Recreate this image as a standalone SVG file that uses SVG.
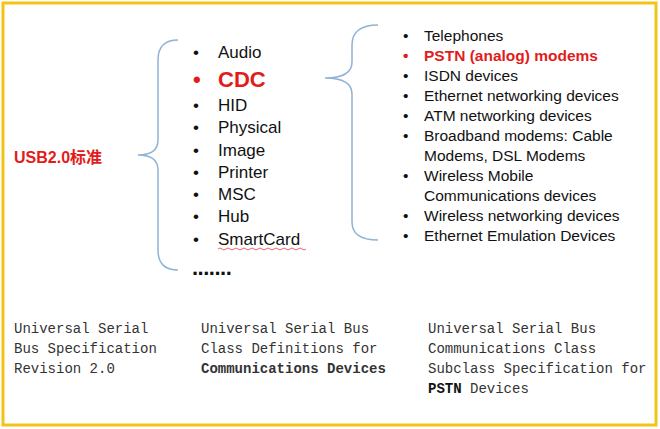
<svg xmlns="http://www.w3.org/2000/svg" width="660" height="429" viewBox="0 0 660 429">
<style>
.s{font-family:"Liberation Sans",Arial,sans-serif;font-size:17px;fill:#111}
.r{font-family:"Liberation Sans",Arial,sans-serif;font-size:15.5px;fill:#111}
.m{font-family:"Liberation Mono","Courier New",monospace;font-size:14px;fill:#333}
.red{fill:#e21c1c;font-weight:bold}
.big{font-size:22px}
.br{fill:none;stroke:#8fb3d6;stroke-width:1.5}
</style>
<rect x="3" y="3" width="653" height="422" fill="#fff" stroke="#f0c419" stroke-width="3"/>
<g id="usb"><text x="14" y="163" font-family="'Liberation Sans','Noto Sans CJK SC',sans-serif" font-size="16" font-weight="bold" fill="#e21c1c">USB2.0标准</text></g>
<g id="connectors">
<path class="br" d="M178,40 Q158,40 158,60 L158,140 Q158,155 138,155 Q158,155 158,170 L158,250 Q158,270 178,270"/>
<path class="br" d="M378,25 Q352,25 352,45 L352,62 Q352,78 325,78 Q352,78 352,94 L352,222 Q352,240 378,240"/>
</g>
<g id="classes">
<text class="s" x="193" y="58">•</text><text class="s" x="218" y="58">Audio</text>
<text class="s red big" x="193" y="87">•</text><text class="s red big" x="218" y="87">CDC</text>
<text class="s" x="193" y="111">•</text><text class="s" x="218" y="111">HID</text>
<text class="s" x="193" y="133">•</text><text class="s" x="218" y="133">Physical</text>
<text class="s" x="193" y="156">•</text><text class="s" x="218" y="156">Image</text>
<text class="s" x="193" y="178">•</text><text class="s" x="218" y="178">Printer</text>
<text class="s" x="193" y="200">•</text><text class="s" x="218" y="200">MSC</text>
<text class="s" x="193" y="222">•</text><text class="s" x="218" y="222">Hub</text>
<text class="s" x="193" y="245">•</text><text class="s" x="218" y="245">SmartCard</text>
<path d="M218,249 q2,-2 4,0 t4,0 t4,0 t4,0 t4,0 t4,0 t4,0 t4,0 t4,0 t4,0 t4,0 t4,0 t4,0 t4,0 t4,0 t4,0 t4,0 t4,0 t4,0 t4,0 t4,0 t4,0" fill="none" stroke="#e04040" stroke-width="0.8"/>
<text x="192" y="275" font-family="'Liberation Sans',sans-serif" font-size="22" font-weight="bold" fill="#111" letter-spacing="-0.5">.......</text>
</g>
<g id="subclasses">
<text class="r" x="403" y="41">•</text><text class="r" x="424" y="41">Telephones</text>
<text class="r red" x="403" y="61">•</text><text class="r red" x="424" y="61">PSTN (analog) modems</text>
<text class="r" x="403" y="81">•</text><text class="r" x="424" y="81">ISDN devices</text>
<text class="r" x="403" y="101">•</text><text class="r" x="424" y="101">Ethernet networking devices</text>
<text class="r" x="403" y="121">•</text><text class="r" x="424" y="121">ATM networking devices</text>
<text class="r" x="403" y="141">•</text><text class="r" x="424" y="141">Broadband modems: Cable</text>
<text class="r" x="424" y="161">Modems, DSL Modems</text>
<text class="r" x="403" y="181">•</text><text class="r" x="424" y="181">Wireless Mobile</text>
<text class="r" x="424" y="201">Communications devices</text>
<text class="r" x="403" y="221">•</text><text class="r" x="424" y="221">Wireless networking devices</text>
<text class="r" x="403" y="241">•</text><text class="r" x="424" y="241">Ethernet Emulation Devices</text>
</g>
<g id="spec1"><text class="m" x="14" y="333">Universal Serial</text><text class="m" x="14" y="353">Bus Specification</text><text class="m" x="14" y="373">Revision 2.0</text></g>
<g id="spec2"><text class="m" x="201" y="333">Universal Serial Bus</text><text class="m" x="201" y="353">Class Definitions for</text><text class="m" x="201" y="373" font-weight="bold" fill="#111">Communications Devices</text></g>
<g id="spec3"><text class="m" x="428" y="333">Universal Serial Bus</text><text class="m" x="428" y="353">Communications Class</text><text class="m" x="428" y="373">Subclass Specification for</text><text class="m" x="428" y="393"><tspan font-weight="bold" fill="#111">PSTN</tspan> Devices</text></g>
</svg>
